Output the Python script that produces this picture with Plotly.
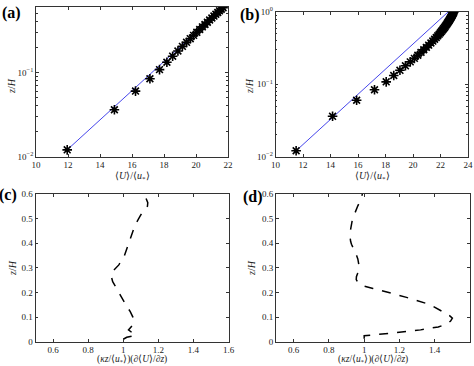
import plotly.graph_objects as go

# ---------------- data ----------------
# panel (a)
a_z = [0.012, 0.036, 0.060, 0.084, 0.108, 0.132, 0.156, 0.180, 0.204, 0.228, 0.252, 0.276,
       0.300, 0.324, 0.348, 0.372, 0.396, 0.420, 0.444, 0.468, 0.492, 0.516, 0.540, 0.564, 0.588]
a_u = [11.95, 14.9, 16.22, 17.12, 17.72, 18.18, 18.54, 18.87, 19.15, 19.41, 19.64, 19.85,
       20.05, 20.23, 20.40, 20.56, 20.71, 20.85, 20.99, 21.12, 21.24, 21.36, 21.47, 21.58, 21.69]
a_line_z = [0.012, 0.6]
a_line_u = [11.95, 21.73]

# panel (b)
b_z = [0.012, 0.036, 0.060, 0.084, 0.108, 0.132, 0.156, 0.180, 0.204, 0.228, 0.252, 0.276,
       0.300, 0.324, 0.348, 0.372, 0.396, 0.420, 0.444, 0.468, 0.492, 0.516, 0.540, 0.564,
       0.588, 0.612, 0.636, 0.660, 0.684, 0.708, 0.732, 0.756, 0.780, 0.804, 0.828, 0.852,
       0.876, 0.900, 0.924, 0.948, 0.972, 0.996]
b_u = [11.5, 14.15, 15.9, 17.2, 18.05, 18.6, 19.05, 19.45, 19.8, 20.1, 20.35, 20.58,
       20.78, 20.97, 21.14, 21.30, 21.44, 21.57, 21.69, 21.80, 21.90, 21.99, 22.07, 22.15,
       22.22, 22.29, 22.35, 22.41, 22.47, 22.52, 22.57, 22.62, 22.66, 22.70, 22.74, 22.78,
       22.81, 22.84, 22.87, 22.90, 22.93, 22.96]
b_line_z = [0.012, 1.0]
b_line_u = [11.5, 22.55]

# panel (c)
c_z = [0.010, 0.018, 0.026, 0.036, 0.048, 0.064, 0.082, 0.100, 0.122, 0.150, 0.180, 0.210,
       0.244, 0.270, 0.290, 0.312, 0.346, 0.393, 0.434, 0.475, 0.515, 0.550, 0.565, 0.583, 0.600]
c_x = [1.00, 1.02, 1.07, 1.05, 1.03, 1.05, 1.06, 1.055, 1.04, 1.015, 0.99, 0.965,
       0.94, 0.93, 0.945, 0.975, 1.005, 1.028, 1.046, 1.068, 1.10, 1.138, 1.14, 1.128, 1.12]

# panel (d)
d_z = [0.012, 0.024, 0.036, 0.048, 0.060, 0.072, 0.084, 0.096, 0.108, 0.120, 0.132, 0.144,
       0.156, 0.168, 0.180, 0.192, 0.204, 0.216, 0.228, 0.240, 0.252, 0.264, 0.276, 0.288,
       0.300, 0.312, 0.324, 0.336, 0.348, 0.360, 0.372, 0.384, 0.396, 0.408, 0.420, 0.432,
       0.444, 0.456, 0.468, 0.480, 0.492, 0.504, 0.516, 0.528, 0.540, 0.552, 0.564, 0.576,
       0.588, 0.600]
d_x = [1.00, 1.00, 1.17, 1.32, 1.42, 1.47, 1.49, 1.50, 1.48, 1.45, 1.42, 1.39,
       1.35, 1.30, 1.24, 1.18, 1.11, 1.05, 0.99, 0.965, 0.955, 0.956, 0.962, 0.968,
       0.970, 0.970, 0.968, 0.964, 0.958, 0.950, 0.942, 0.935, 0.928, 0.923, 0.920, 0.919,
       0.920, 0.922, 0.925, 0.928, 0.932, 0.937, 0.943, 0.950, 0.957, 0.964, 0.972, 0.979,
       0.985, 0.990]

log_tickvals = [0.01, 0.1, 1]
log_ticktext = ["10<sup>−2</sup>", "10<sup>−1</sup>", "10<sup>0</sup>"]
log_minor = [0.02, 0.03, 0.04, 0.05, 0.06, 0.07, 0.08, 0.09,
             0.2, 0.3, 0.4, 0.5, 0.6, 0.7, 0.8, 0.9]
lin_ticks = [0.6, 0.8, 1, 1.2, 1.4, 1.6]
lin_ticktext = ["0.6", "0.8", "1", "1.2", "1.4", "1.6"]

# ---------------- figure ----------------
W, H = 474, 366
FONT = "Liberation Serif"
STAR = dict(symbol="asterisk-open", size=8, color="black", line=dict(color="black", width=1.6))
BLUE = "rgb(70,70,235)"

fig = go.Figure()
fig.add_trace(go.Scatter(x=a_line_u, y=a_line_z, mode="lines", line=dict(color=BLUE, width=1),
                         xaxis="x", yaxis="y", showlegend=False))
fig.add_trace(go.Scatter(x=a_u, y=a_z, mode="markers", marker=STAR, xaxis="x", yaxis="y", showlegend=False))
fig.add_trace(go.Scatter(x=b_line_u, y=b_line_z, mode="lines", line=dict(color=BLUE, width=1),
                         xaxis="x2", yaxis="y2", showlegend=False))
fig.add_trace(go.Scatter(x=b_u, y=b_z, mode="markers", marker=STAR, xaxis="x2", yaxis="y2", showlegend=False))
fig.add_trace(go.Scatter(x=c_x, y=c_z, mode="lines", line=dict(color="black", width=1.5, dash="dash"),
                         xaxis="x3", yaxis="y3", showlegend=False))
fig.add_trace(go.Scatter(x=d_x, y=d_z, mode="lines", line=dict(color="black", width=1.5, dash="dash"),
                         xaxis="x4", yaxis="y4", showlegend=False))


def px(v):
    return v / W


def py(v):
    return 1 - v / H


common = dict(showline=True, linecolor="#333", linewidth=0.8, mirror="ticks", ticks="inside",
              ticklen=3, tickcolor="#333", showgrid=False, zeroline=False, automargin=False,
              tickfont=dict(family=FONT, size=9, color="#222"))

xt_u = "⟨<i>U</i>⟩/⟨<i>u</i><sub>*</sub>⟩"
xt_g = "(<i>κz</i>/⟨<i>u</i><sub>*</sub>⟩)(<i>∂</i>⟨<i>U</i>⟩/<i>∂z</i>)"
yt = "<i>z</i>/<i>H</i>"
minor = dict(ticks="inside", ticklen=2, tickcolor="#333", tickvals=log_minor)

fig.update_layout(
    width=W, height=H, margin=dict(l=0, r=0, t=0, b=0, autoexpand=False),
    paper_bgcolor="white", plot_bgcolor="white",
    xaxis=dict(domain=[px(36), px(228)], range=[10, 22], dtick=2, anchor="y", **common),
    yaxis=dict(domain=[py(156.5), py(7)], type="log", range=[-2, -0.2218], anchor="x",
               tickvals=log_tickvals, ticktext=log_ticktext, minor=minor, **common),
    xaxis2=dict(domain=[px(275.5), px(468)], range=[10, 24], dtick=2, anchor="y2", **common),
    yaxis2=dict(domain=[py(156.5), py(12)], type="log", range=[-2, 0], anchor="x2",
                tickvals=log_tickvals, ticktext=log_ticktext, minor=minor, **common),
    xaxis3=dict(domain=[px(35.5), px(228.5)], range=[0.5, 1.6], tickvals=lin_ticks,
                ticktext=lin_ticktext, anchor="y3", **common),
    yaxis3=dict(domain=[py(341.7), py(194)], range=[0, 0.6], dtick=0.1, anchor="x3", **common),
    xaxis4=dict(domain=[px(276), px(470)], range=[0.5, 1.6], tickvals=lin_ticks,
                ticktext=lin_ticktext, anchor="y4", **common),
    yaxis4=dict(domain=[py(341.7), py(194)], range=[0, 0.6], dtick=0.1, anchor="x4", **common),
)

TF = dict(family=FONT, size=10, color="#222")
TFs = dict(family=FONT, size=9.5, color="#222")
# axis titles (x, y centre in pixels, text, angle, font)
titles = [(132, 176, xt_u, 0, TF), (372, 176, xt_u, 0, TF), (132, 359.5, xt_g, 0, TFs),
          (373, 359.5, xt_g, 0, TFs),
          (11, 86, yt, -90, TF), (249, 86, yt, -90, TF), (12, 268, yt, -90, TF), (251, 268, yt, -90, TF)]
for x0, y0, txt, ang, f in titles:
    fig.add_annotation(text=txt, x=px(x0), y=py(y0), xref="paper", yref="paper",
                       xanchor="center", yanchor="middle", showarrow=False, textangle=ang, font=f)

labels = [("(a)", 0, 2), ("(b)", 238, 4), ("(c)", -3, 184), ("(d)", 241, 186)]
for txt, x0, y0 in labels:
    fig.add_annotation(text="<b>%s</b>" % txt, x=px(x0), y=py(y0), xref="paper", yref="paper",
                       xanchor="left", yanchor="top", showarrow=False,
                       font=dict(family=FONT, size=16, color="black"))

fig.write_html("out.html", config={"displayModeBar": False},
               post_script="document.body.style.margin='0';document.body.style.overflow='hidden';")
